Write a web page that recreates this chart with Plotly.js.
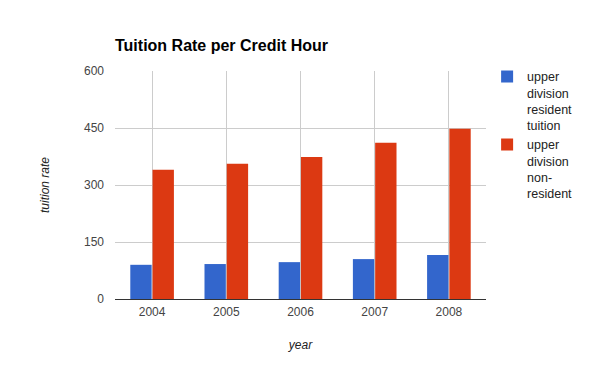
<!DOCTYPE html>
<html><head><meta charset="utf-8">
<script src="https://cdn.plot.ly/plotly-3.0.1.min.js"></script>
<style>body{margin:0;background:#fff}#chart{width:600px;height:371px}</style>
</head><body><div id="chart"></div>
<script>
var years = ["2004", "2005", "2006", "2007", "2008"];
var residentTuition = [90, 92, 97, 105, 116];
var nonResidentTuition = [340, 356, 374, 411, 448];
var seriesNames = ["upper<br>division<br>resident<br>tuition", "upper<br>division<br>non-<br>resident"];
var yTicks = [0, 150, 300, 450, 600];

var font = "Arial, 'Liberation Sans', sans-serif";
var data = [
  {type: "bar", x: years, y: residentTuition, name: seriesNames[0], marker: {color: "#3366cc"}},
  {type: "bar", x: years, y: nonResidentTuition, name: seriesNames[1], marker: {color: "#dc3912"}}
];
var layout = {
  width: 600, height: 371,
  margin: {l: 115, r: 114, t: 71, b: 72},
  paper_bgcolor: "#fff", plot_bgcolor: "#fff",
  font: {family: font, size: 12, color: "#222"},
  title: {text: "<b>Tuition Rate per Credit Hour</b>", x: 115/600, xanchor: "left", y: 1 - 45/371, yanchor: "middle",
          font: {family: font, size: 16, color: "#000"}},
  barmode: "group", bargap: 0.4, bargroupgap: 0.04,
  xaxis: {type: "category", showgrid: true, gridcolor: "#cccccc", ticks: "", showline: false,
          tickfont: {family: font, size: 12, color: "#444"}, ticklabelstandoff: 4,
          title: {text: "<i>year</i>", font: {family: font, size: 12, color: "#222"}, standoff: 22}},
  yaxis: {range: [0, 600], tickvals: yTicks, ticktext: yTicks.map(String), gridcolor: "#cccccc",
          zeroline: true, zerolinecolor: "#333333", zerolinewidth: 1, ticks: "", ticklen: 0,
          tickfont: {family: font, size: 12, color: "#444"}, ticklabelstandoff: 10,
          title: {text: "<i>tuition rate</i>", font: {family: font, size: 12, color: "#222"}, standoff: 31}},
  legend: {x: 1.003, xanchor: "left", y: 1.04, yanchor: "top", valign: "top",
           font: {family: font, size: 12.5, color: "#222"}, tracegroupgap: 5, itemwidth: 30},
  showlegend: true
};
Plotly.newPlot("chart", data, layout, {displayModeBar: false, staticPlot: true});
</script></body></html>
